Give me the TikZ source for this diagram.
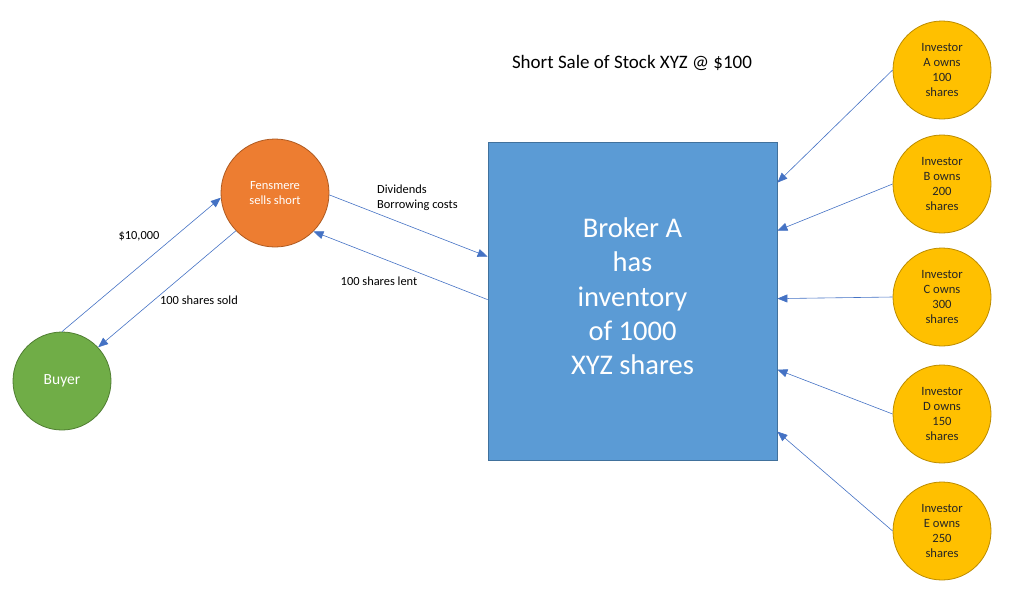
\documentclass[tikz,border=0pt]{standalone}
\usepackage{fontspec}
\setmainfont{Carlito}
\usetikzlibrary{arrows.meta}
\definecolor{orangeF}{HTML}{ED7D31}
\definecolor{orangeB}{HTML}{AE5A21}
\definecolor{greenF}{HTML}{70AD47}
\definecolor{greenB}{HTML}{507E32}
\definecolor{blueF}{HTML}{5B9BD5}
\definecolor{blueB}{HTML}{41719C}
\definecolor{goldF}{HTML}{FFC000}
\definecolor{goldB}{HTML}{BC8C00}
\definecolor{arrowC}{HTML}{4472C4}
\definecolor{txt}{HTML}{262626}
\tikzset{
  invest/.style={circle, fill=goldF, draw=goldB, line width=0.8pt, minimum size=98pt, inner sep=0pt,
    text=txt, align=center, font=\fontsize{12.6}{15.2}\selectfont},
  conn/.style={draw=arrowC, line width=0.6pt, -{Triangle[width=8pt,length=10pt]}},
  lbl/.style={text=black, font=\fontsize{12.4}{15}\selectfont, inner sep=0pt}
}
\begin{document}
\begin{tikzpicture}[x=1pt,y=-1pt]
\useasboundingbox (0,0) rectangle (1024,600);
\node[lbl, font=\fontsize{19}{22}\selectfont] (title) at (632,63) {Short Sale of Stock XYZ @ \$100};
\node[rectangle, fill=blueF, draw=blueB, line width=0.8pt, minimum width=289pt, minimum height=318pt,
  inner sep=0pt,
  label={[text=white, align=center, font=\fontsize{28.5}{34.3}\selectfont, yshift=4.5pt]center:Broker A\\has\\inventory\\of 1000\\XYZ shares}]
  (broker) at (632.5,301) {};
\node[circle, fill=orangeF, draw=orangeB, line width=0.8pt, minimum size=108pt, inner sep=0pt,
  text=white, align=center, font=\fontsize{12.5}{15.2}\selectfont] (fens) at (275,193) {Fensmere\\sells short};
\node[circle, fill=greenF, draw=greenB, line width=0.8pt, minimum size=98pt, inner sep=0pt,
  text=white, font=\fontsize{15.5}{18}\selectfont] (buyer) at (62,381) {Buyer};
\node[invest] (ia) at (942,70) {Investor\\A owns\\100\\shares};
\node[invest] (ib) at (942,184) {Investor\\B owns\\200\\shares};
\node[invest] (ic) at (942,297) {Investor\\C owns\\300\\shares};
\node[invest] (id) at (942,414) {Investor\\D owns\\150\\shares};
\node[invest] (ie) at (942,531) {Investor\\E owns\\250\\shares};
\draw[conn] (buyer.90) -- (fens.185);
\draw[conn] (fens.224) -- (buyer.43);
\draw[conn] (fens.-2) -- ([yshift=-115pt]broker.north west);
\draw[conn] ([yshift=-158pt]broker.north west) -- (fens.-45);
\draw[conn] (ia.west) -- ([yshift=-41pt]broker.north east);
\draw[conn] (ib.west) -- ([yshift=-89pt]broker.north east);
\draw[conn] (ic.west) -- ([yshift=-157pt]broker.north east);
\draw[conn] (id.west) -- ([yshift=-228pt]broker.north east);
\draw[conn] (ie.west) -- ([yshift=-290pt]broker.north east);
\node[lbl] (l1) at (139,236) {\$10,000};
\node[lbl] (l2) at (199,300) {100 shares sold};
\node[lbl, anchor=west, align=left] (l3) at (377,198) {Dividends\\Borrowing costs};
\node[lbl] (l4) at (379,281) {100 shares lent};
\end{tikzpicture}
\end{document}
